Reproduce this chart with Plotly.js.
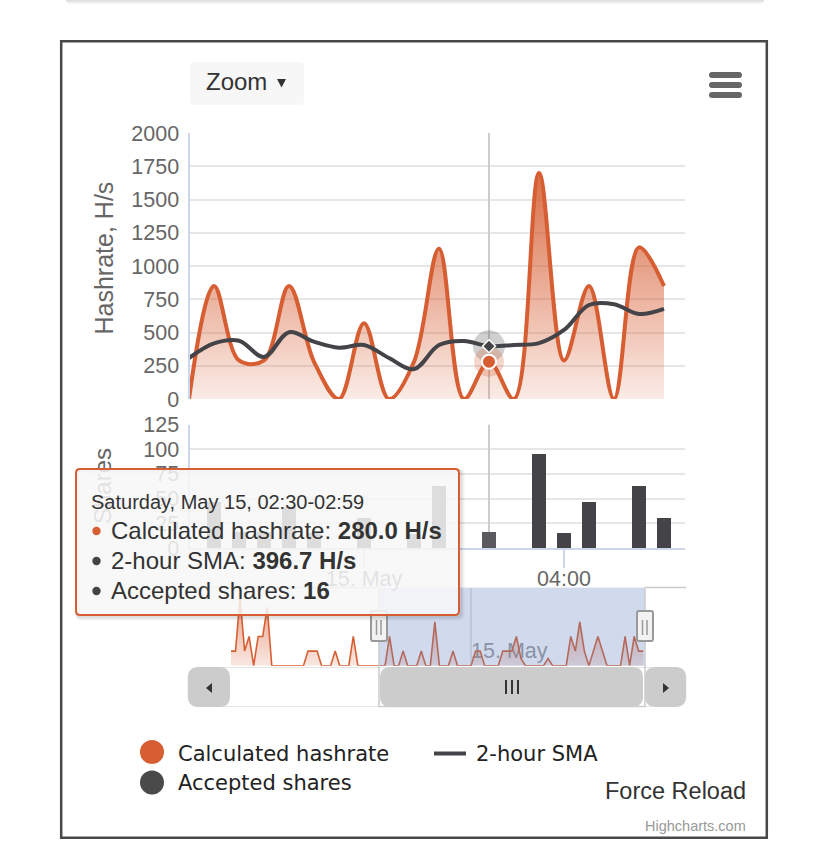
<!DOCTYPE html>
<html><head><meta charset="utf-8">
<script src="https://cdn.plot.ly/plotly-3.0.1.min.js"></script>
<style>html,body{margin:0;padding:0;background:#fff}#chart{width:828px;height:852px}</style>
</head><body><div id="chart"></div>
<script>
// ---------------- DATA ----------------
const times = ['2021-05-14 20:30','2021-05-14 21:00','2021-05-14 21:30','2021-05-14 22:00','2021-05-14 22:30',
  '2021-05-14 23:00','2021-05-14 23:30','2021-05-15 00:00','2021-05-15 00:30','2021-05-15 01:00',
  '2021-05-15 01:30','2021-05-15 02:00','2021-05-15 02:30','2021-05-15 03:00','2021-05-15 03:30',
  '2021-05-15 04:00','2021-05-15 04:30','2021-05-15 05:00','2021-05-15 05:30','2021-05-15 06:00'];
const hashrate = [0, 850, 290, 290, 850, 280, 0, 570, 0, 280, 1130, 0, 280, 0, 1700, 290, 850, 0, 1140, 850];
const sma = [308, 418, 438, 316, 502, 431, 386, 406, 308, 225, 406, 436, 396.7, 406, 420, 519, 707, 713, 639, 677];
const shares = [0, 47, 16, 16, 42, 15, 0, 30, 0, 14, 63, 0, 16, 0, 95, 15, 47, 0, 63, 30];
// navigator: 10-minute samples starting at navStart
const navStart = '2021-05-14 15:10';
const navHashrate = [850, 850, 4000, 850, 1700, 0, 1700, 1700, 3400, 0,
  0, 0, 0, 0, 0, 0, 0, 850, 850, 850,
  0, 0, 0, 850, 0, 0, 0, 1700, 0, 0,
  0, 0, 0, 0, 0, 1700, 0, 0, 850, 0,
  0, 0, 850, 0, 0, 2550, 0, 0, 0, 850,
  0, 0, 0, 0, 850, 850, 0, 0, 0, 0,
  850, 850, 850, 1700, 425, 0, 0, 0, 0, 0,
  425, 0, 0, 0, 0, 1700, 850, 2550, 850, 0,
  850, 1700, 850, 0, 0, 0, 0, 1700, 0, 1700,
  850, 850];
const xTickVals = ['2021-05-15 00:00', '2021-05-15 04:00'];
const xTickText = ['15. May', '04:00'];
const navTickVals = ['2021-05-15 00:00'];
const navTickText = ['15. May'];
const seriesNames = ['Calculated hashrate', '2-hour SMA', 'Accepted shares'];
const hoverIndex = 12;

// ---------------- HELPERS ----------------
const W = 828, H = 852;
const px = x => x / W;
const py = y => 1 - y / H;
const P = (x, y) => px(x).toFixed(5) + ',' + py(y).toFixed(5);
function rrect(x0, y0, x1, y1, r) {
  if (typeof r === 'number') r = [r, r, r, r];
  const [tl, tr, br, bl] = r;
  return 'M' + P(x0 + tl, y0) + ' L' + P(x1 - tr, y0) + ' Q' + P(x1, y0) + ' ' + P(x1, y0 + tr) +
    ' L' + P(x1, y1 - br) + ' Q' + P(x1, y1) + ' ' + P(x1 - br, y1) +
    ' L' + P(x0 + bl, y1) + ' Q' + P(x0, y1) + ' ' + P(x0, y1 - bl) +
    ' L' + P(x0, y0 + tl) + ' Q' + P(x0, y0) + ' ' + P(x0 + tl, y0) + ' Z';
}
function addMin(s, m) {
  const d = new Date(s.replace(' ', 'T') + ':00Z');
  d.setUTCMinutes(d.getUTCMinutes() + m);
  return d.toISOString().slice(0, 16).replace('T', ' ');
}
const navTimes = navHashrate.map((_, i) => addMin(navStart, 10 * i));

const ORANGE = '#d65e32', DARK = '#434348';
const SANS = '"Liberation Sans", Arial, sans-serif';
const LEG = '"DejaVu Sans", Verdana, sans-serif';

function pathShape(d, fill, line, lw, extra) {
  return Object.assign({type: 'path', xref: 'paper', yref: 'paper', path: d, fillcolor: fill || 'rgba(0,0,0,0)',
    line: {color: line || 'rgba(0,0,0,0)', width: lw || 0}, layer: 'above'}, extra || {});
}
function lineShape(x0, y0, x1, y1, color, w) {
  return {type: 'line', xref: 'paper', yref: 'paper', x0: px(x0), y0: py(y0), x1: px(x1), y1: py(y1),
    line: {color: color, width: w}, layer: 'above'};
}
function circle(cx, cy, r, fill) {
  return {type: 'circle', xref: 'paper', yref: 'paper', x0: px(cx - r), x1: px(cx + r), y0: py(cy + r), y1: py(cy - r),
    fillcolor: fill, line: {width: 0}, layer: 'above'};
}
function txt(text, x, y, o) {
  return Object.assign({xref: 'paper', yref: 'paper', x: px(x), y: py(y), text: text, showarrow: false,
    xanchor: 'left', yanchor: 'middle', borderpad: 0, borderwidth: 0,
    font: {family: SANS, size: 24, color: '#333333'}}, o || {});
}

// tooltip header text
function header(t) {
  const d = new Date(t.replace(' ', 'T') + ':00Z');
  const days = ['Sunday','Monday','Tuesday','Wednesday','Thursday','Friday','Saturday'];
  const mons = ['January','February','March','April','May','June','July','August','September','October','November','December'];
  const hh = String(d.getUTCHours()).padStart(2, '0');
  const mm = d.getUTCMinutes();
  return days[d.getUTCDay()] + ', ' + mons[d.getUTCMonth()] + ' ' + d.getUTCDate() + ', ' +
    hh + ':' + String(mm).padStart(2, '0') + '-' + hh + ':' + String(mm + 29).padStart(2, '0');
}

// ---------------- TRACES ----------------
const hx = times[hoverIndex];
const barColors = shares.map((_, i) => i === hoverIndex ? '#5a5a5f' : DARK);
const traces = [
  {type: 'scatter', x: times, y: hashrate, xaxis: 'x', yaxis: 'y', mode: 'lines', name: seriesNames[0],
    line: {color: ORANGE, width: 4, shape: 'spline', smoothing: 1.0}, fill: 'tozeroy',
    fillgradient: {type: 'vertical', start: 0, stop: 1750,
      colorscale: [[0, 'rgba(214,94,50,0.12)'], [1, 'rgba(214,94,50,0.92)']]}},
  {type: 'scatter', x: times, y: sma, xaxis: 'x', yaxis: 'y', mode: 'lines', name: seriesNames[1],
    line: {color: DARK, width: 4, shape: 'spline', smoothing: 1.0}},
  {type: 'bar', x: times, y: shares, xaxis: 'x', yaxis: 'y2', name: seriesNames[2],
    width: 1008000, marker: {color: barColors, line: {width: 0}}},
  {type: 'scatter', x: navTimes, y: navHashrate, xaxis: 'x3', yaxis: 'y3', mode: 'lines',
    line: {color: ORANGE, width: 1.6}, fill: 'tozeroy',
    fillgradient: {type: 'vertical', start: 0, stop: 4000,
      colorscale: [[0, 'rgba(214,94,50,0.15)'], [1, 'rgba(214,94,50,0.6)']]}},
  {type: 'scatter', x: [hx], y: [sma[hoverIndex]], xaxis: 'x', yaxis: 'y', mode: 'markers',
    marker: {size: 32, color: 'rgba(67,67,72,0.25)'}},
  {type: 'scatter', x: [hx], y: [hashrate[hoverIndex]], xaxis: 'x', yaxis: 'y', mode: 'markers',
    marker: {size: 30, color: 'rgba(214,94,50,0.25)'}},
  {type: 'scatter', x: [hx], y: [sma[hoverIndex]], xaxis: 'x', yaxis: 'y', mode: 'markers',
    marker: {size: 10, symbol: 'diamond', color: DARK, line: {color: '#ffffff', width: 1.5}}},
  {type: 'scatter', x: [hx], y: [hashrate[hoverIndex]], xaxis: 'x', yaxis: 'y', mode: 'markers',
    marker: {size: 14, color: ORANGE, line: {color: '#ffffff', width: 2}}}
];

// ---------------- SHAPES ----------------
const shapes = [
  // crosshair
  {type: 'line', xref: 'x', yref: 'y', x0: hx, x1: hx, y0: 0, y1: 2000, line: {color: '#cccccc', width: 2}, layer: 'between'},
  {type: 'line', xref: 'x', yref: 'y2', x0: hx, x1: hx, y0: 0, y1: 125, line: {color: '#cccccc', width: 2}, layer: 'between'},
  // page card remnant at top
  lineShape(66, 1, 764, 1, '#e2e2e2', 2),
  lineShape(68, 3, 762, 3, '#f3f3f3', 2),
  // frame
  {type: 'rect', xref: 'paper', yref: 'paper', x0: px(61.2), x1: px(766.8), y0: py(837.8), y1: py(41.2),
    line: {color: '#484848', width: 2.5}, fillcolor: 'rgba(0,0,0,0)', layer: 'above'},
  // zoom button
  pathShape(rrect(190, 62, 304, 105, 4), '#f7f7f7'),
  pathShape('M' + P(277, 79) + ' L' + P(286, 79) + ' L' + P(281.5, 87.5) + ' Z', '#333333'),
  // hamburger menu
  pathShape(rrect(709, 72, 742, 78, 3), '#666666'),
  pathShape(rrect(709, 82, 742, 88, 3), '#666666'),
  pathShape(rrect(709, 92, 742, 98, 3), '#666666'),
  // scrollbar
  pathShape(rrect(188, 667.5, 686, 706.5, 11), '#ffffff', '#e6e6e6', 1),
  pathShape(rrect(188, 667, 230, 707, 11), '#cccccc'),
  pathShape(rrect(645, 667, 686, 707, 11), '#cccccc'),
  pathShape(rrect(380, 667, 643, 707, 11), '#cccccc'),
  lineShape(506, 680, 506, 694, '#333333', 2),
  lineShape(512, 680, 512, 694, '#333333', 2),
  lineShape(518, 680, 518, 694, '#333333', 2),
  pathShape('M' + P(206, 688) + ' L' + P(212, 683) + ' L' + P(212, 693) + ' Z', '#333333'),
  pathShape('M' + P(669, 688) + ' L' + P(663, 683) + ' L' + P(663, 693) + ' Z', '#333333'),
  // navigator mask + outline
  {type: 'rect', xref: 'paper', yref: 'paper', x0: px(379), x1: px(645), y0: py(665.7), y1: py(587.5),
    fillcolor: 'rgba(102,133,194,0.3)', line: {width: 0}, layer: 'above'},
  pathShape('M' + P(188, 587.5) + ' L' + P(379, 587.5) + ' L' + P(379, 706.5) + ' L' + P(645, 706.5) +
    ' L' + P(645, 587.5) + ' L' + P(686, 587.5), null, '#cccccc', 1.5),
  // navigator handles
  pathShape(rrect(371, 611, 387, 641, 2), '#f2f2f2', '#999999', 2),
  lineShape(376.5, 620, 376.5, 635, '#999999', 1.5),
  lineShape(381, 620, 381, 635, '#999999', 1.5),
  pathShape(rrect(637, 611, 653, 641, 2), '#f2f2f2', '#999999', 2),
  lineShape(642.5, 620, 642.5, 635, '#999999', 1.5),
  lineShape(647, 620, 647, 635, '#999999', 1.5),
  // "Shares" axis title (drawn under the tooltip)
  {type: 'rect', xref: 'paper', yref: 'paper', x0: px(80), x1: px(120), y0: py(540), y1: py(432),
    fillcolor: 'rgba(0,0,0,0)', line: {width: 0}, layer: 'above',
    label: {text: 'Shares', textangle: -90, textposition: 'middle center', font: {family: SANS, size: 24, color: '#666666'}}},
  // tooltip shadow + box
  pathShape(rrect(78, 471, 462, 618, 4), null, 'rgba(0,0,0,0.05)', 5),
  pathShape(rrect(77, 470, 461, 617, 4), null, 'rgba(0,0,0,0.08)', 3),
  pathShape(rrect(76, 469, 459, 615, 4), 'rgba(247,247,247,0.86)', ORANGE, 2),
  circle(96.5, 531, 4.2, ORANGE),
  circle(96.5, 561, 4.2, DARK),
  circle(96.5, 591, 4.2, DARK),
  // legend symbols
  circle(152, 752, 12, ORANGE),
  circle(152, 782.5, 12, '#4a4a4a'),
  lineShape(434, 753.5, 466, 753.5, DARK, 4)
];

// ---------------- ANNOTATIONS ----------------
const annotations = [
  txt('Zoom', 206, 82, {font: {family: SANS, size: 24, color: '#333333'}}),
  txt('Hashrate, H/s', 103.5, 258, {xanchor: 'center', textangle: -90, font: {family: SANS, size: 25, color: '#666666'}}),
  txt(header(hx), 91, 501.5, {font: {family: SANS, size: 20, color: '#333333'}}),
  txt(seriesNames[0] + ': <b>' + hashrate[hoverIndex].toFixed(1) + ' H/s</b>', 111, 530),
  txt(seriesNames[1] + ': <b>' + sma[hoverIndex].toFixed(1) + ' H/s</b>', 111, 560),
  txt(seriesNames[2] + ': <b>' + shares[hoverIndex] + '</b>', 111, 590),
  txt(seriesNames[0], 178, 753.5, {font: {family: LEG, size: 21, color: '#222222'}}),
  txt(seriesNames[1], 476, 753.5, {font: {family: LEG, size: 21, color: '#222222'}}),
  txt(seriesNames[2], 178, 783, {font: {family: LEG, size: 21, color: '#222222'}}),
  txt('Force Reload', 746, 790.5, {xanchor: 'right', font: {family: SANS, size: 23.5, color: '#333333'}}),
  txt('Highcharts.com', 746, 825.5, {xanchor: 'right', font: {family: SANS, size: 14.5, color: '#999999'}})
];

// ---------------- LAYOUT ----------------
const tickFont = {family: SANS, size: 21.5, color: '#666666'};
const layout = {
  width: W, height: H, margin: {l: 0, r: 0, t: 0, b: 0},
  paper_bgcolor: '#ffffff', plot_bgcolor: 'rgba(0,0,0,0)',
  showlegend: false, hovermode: false, bargap: 0,
  xaxis: {domain: [px(190), px(685)], anchor: 'y2', type: 'date',
    range: ['2021-05-14 20:31:12', '2021-05-15 06:25:12'],
    tickmode: 'array', tickvals: xTickVals, ticktext: xTickText, tickfont: tickFont,
    ticks: 'outside', ticklen: 18, tickwidth: 2, tickcolor: '#ccd6eb', ticklabelstandoff: -8,
    showline: true, linecolor: '#ccd6eb', linewidth: 2, showgrid: false, zeroline: false, fixedrange: true},
  yaxis: {domain: [py(399), py(133)], anchor: 'x', range: [0, 2000], dtick: 250, tick0: 0,
    tickfont: tickFont, ticks: '', ticklabelstandoff: 4,
    gridcolor: '#e6e6e6', gridwidth: 2, showline: true, linecolor: '#ccd6eb', linewidth: 2.5, zeroline: false},
  yaxis2: {domain: [py(548), py(424.5)], anchor: 'x', range: [0, 125], dtick: 25, tick0: 0,
    tickfont: tickFont, ticks: '', ticklabelstandoff: 4,
    gridcolor: '#e6e6e6', gridwidth: 2, showline: true, linecolor: '#ccd6eb', linewidth: 2.5, zeroline: false},
  xaxis3: {domain: [px(230), px(645)], anchor: 'y3', type: 'date',
    range: ['2021-05-14 15:07:48', '2021-05-15 06:23:55'],
    tickmode: 'array', tickvals: navTickVals, ticktext: navTickText,
    tickfont: {family: SANS, size: 21.5, color: '#999999'}, ticklabelposition: 'inside right', ticks: '',
    ticklabelstandoff: -3,
    showgrid: true, gridcolor: '#e6e6e6', gridwidth: 2, showline: false, zeroline: false, layer: 'below traces'},
  yaxis3: {domain: [py(665.7), py(587.5)], anchor: 'x3', range: [0, 4550],
    showgrid: false, showticklabels: false, zeroline: false, showline: false, ticks: ''},
  shapes: shapes, annotations: annotations
};

Plotly.newPlot('chart', traces, layout, {staticPlot: true, displayModeBar: false});
</script></body></html>
